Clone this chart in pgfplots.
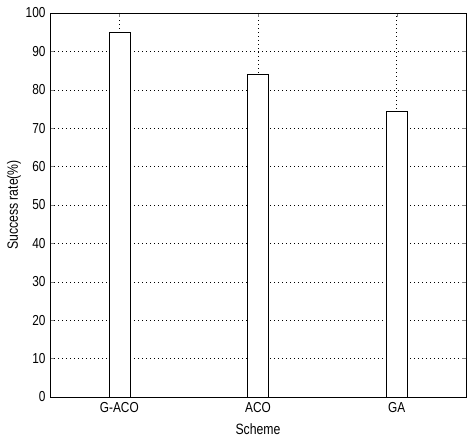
\documentclass[border=0pt]{standalone}
\usepackage{fontspec}
\setmainfont{Liberation Sans}
\newfontfamily\narrowfont[FakeStretch=0.82]{Liberation Sans}
\usepackage{pgfplots}
\pgfplotsset{compat=1.18}

\begin{document}
\begin{tikzpicture}
\begin{axis}[
    scale only axis,
    width=416bp, height=384bp,
    xmin=-0.5, xmax=2.5,
    ymin=0, ymax=100,
    xtick=data,
    xticklabels={G-ACO, ACO, GA},
    ytick={0,10,...,100},
    tick align=inside,
    tick pos=both,
    major tick length=4bp,
    grid=major,
    major grid style={black, line width=0.5pt, dash pattern=on 0.8bp off 3.2bp},
    axis line style={black, line width=0.6pt},
    xlabel={Scheme},
    ylabel={Success rate(\%)},
    xlabel style={yshift=-4bp},
    ylabel style={yshift=-2bp},
    xticklabel style={yshift=-2bp},
    yticklabel style={xshift=-1bp},
    /pgf/number format/assume math mode=true,
    ticklabel style={font=\narrowfont\fontsize{14.5}{16}\selectfont},
    label style={font=\narrowfont\fontsize{15}{17}\selectfont},
]
% success rate per scheme
\addplot[ybar, bar width=21bp, fill=white, draw=black, line width=0.6pt]
    coordinates {(0,95) (1,84) (2,74.5)};
\end{axis}
\path (current axis.south west) ++(-50bp,-46bp) coordinate (bbl);
\path (current axis.north east) ++(8bp,13bp) coordinate (bbr);
\useasboundingbox (bbl) rectangle (bbr);
\end{tikzpicture}
\end{document}
